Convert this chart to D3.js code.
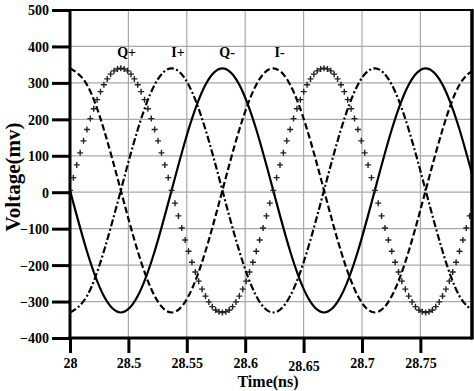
<!DOCTYPE html>
<html>
<head>
<meta charset="utf-8">
<script src="https://cdn.jsdelivr.net/npm/d3@7"></script>
<style>
  body { margin: 0; background: #fff; }
  svg { display: block; }
  text { font-family: "Liberation Serif", "Times New Roman", serif; font-weight: bold; fill: #000; }
</style>
</head>
<body>
<svg id="chart" width="474" height="391"></svg>
<script>
// sample times (ns) of the Q+ markers
const sampleNs = [
  28.4500, 28.4529, 28.4558, 28.4587, 28.4616, 28.4645, 28.4674, 28.4703, 28.4732, 28.4761,
  28.4790, 28.4819, 28.4848, 28.4877, 28.4906, 28.4935, 28.4964, 28.4993, 28.5022, 28.5051,
  28.5080, 28.5109, 28.5138, 28.5167, 28.5196, 28.5225, 28.5254, 28.5283, 28.5312, 28.5341,
  28.5370, 28.5399, 28.5428, 28.5457, 28.5486, 28.5515, 28.5544, 28.5573, 28.5602, 28.5631,
  28.5660, 28.5689, 28.5718, 28.5747, 28.5776, 28.5805, 28.5834, 28.5863, 28.5892, 28.5921,
  28.5950, 28.5979, 28.6008, 28.6037, 28.6066, 28.6095, 28.6124, 28.6153, 28.6182, 28.6211,
  28.6240, 28.6269, 28.6298, 28.6327, 28.6356, 28.6385, 28.6414, 28.6443, 28.6472, 28.6501,
  28.6530, 28.6559, 28.6588, 28.6617, 28.6646, 28.6675, 28.6704, 28.6733, 28.6762, 28.6791,
  28.6820, 28.6849, 28.6878, 28.6907, 28.6936, 28.6965, 28.6994, 28.7023, 28.7052, 28.7081,
  28.7110, 28.7139, 28.7168, 28.7197, 28.7226, 28.7255, 28.7284, 28.7313, 28.7342, 28.7371,
  28.7400, 28.7429, 28.7458, 28.7487, 28.7516, 28.7545, 28.7574, 28.7603, 28.7632, 28.7661,
  28.7690, 28.7719, 28.7748, 28.7777, 28.7806, 28.7835, 28.7864, 28.7893, 28.7922
];
const qPlusMv = [
  5, 40, 75, 108, 141, 172, 202, 229, 254, 276, 295, 311, 324, 333, 338, 340,
  338, 333, 324, 311, 295, 276, 254, 229, 202, 172, 141, 108, 75, 40, 5,
  -30, -65, -98, -131, -162, -192, -219, -244, -266, -285, -301, -314, -323, -328, -330,
  -328, -323, -314, -301, -285, -266, -244, -219, -192, -162, -131, -98, -65, -30, 5,
  40, 75, 108, 141, 172, 202, 229, 254, 276, 295, 311, 324, 333, 338, 340,
  338, 333, 324, 311, 295, 276, 254, 229, 202, 172, 141, 108, 75, 40, 5,
  -30, -65, -98, -131, -162, -192, -219, -244, -266, -285, -301, -314, -323, -328, -330,
  -328, -323, -314, -301, -285, -266, -244, -219, -192, -162, -131, -98, -65
];

// coarser samples for the three line traces
const lineNs = [
  28.4500, 28.4645, 28.4790, 28.4935, 28.5080, 28.5225, 28.5370, 28.5515, 28.5660, 28.5805,
  28.5950, 28.6095, 28.6240, 28.6385, 28.6530, 28.6675, 28.6820, 28.6965, 28.7110, 28.7255,
  28.7400, 28.7545, 28.7690, 28.7835, 28.7980
];
const iPlusMv = [-330, -285, -162, 5, 172, 295, 340, 295, 172, 5, -162, -285, -330,
  -285, -162, 5, 172, 295, 340, 295, 172, 5, -162, -285, -330];
const qMinusMv = [5, -162, -285, -330, -285, -162, 5, 172, 295, 340, 295, 172, 5,
  -162, -285, -330, -285, -162, 5, 172, 295, 340, 295, 172, 5];
const iMinusMv = [340, 295, 172, 5, -162, -285, -330, -285, -162, 5, 172, 295, 340,
  295, 172, 5, -162, -285, -330, -285, -162, 5, 172, 295, 340];

const xTickValues = [28.45, 28.5, 28.55, 28.6, 28.65, 28.7, 28.75];
const xTickLabels = ["28", "28.5", "28.55", "28.6", "28.65", "28.7", "28.75"];
const yTickValues = [-400, -300, -200, -100, 0, 100, 200, 300, 400, 500];

const seriesNames = ["Q+", "I+", "Q-", "I-"];
const nameNs = [28.4985, 28.5425, 28.5845, 28.6295];

const svg = d3.select("#chart");
const box = { left: 70, right: 472, top: 10, bottom: 338 };

const x = d3.scaleLinear().domain([28.45, 28.7942]).range([box.left, box.right]);
const y = d3.scaleLinear().domain([-400, 500]).range([box.bottom, box.top]);

// grid
svg.append("g").selectAll("line")
  .data(xTickValues.slice(1))
  .enter().append("line")
  .attr("x1", d => x(d)).attr("x2", d => x(d))
  .attr("y1", box.top).attr("y2", box.bottom)
  .attr("stroke", "#a8a8a8").attr("stroke-width", 1.2);
svg.append("g").selectAll("line")
  .data(yTickValues.slice(1, -1))
  .enter().append("line")
  .attr("x1", box.left).attr("x2", box.right)
  .attr("y1", d => y(d)).attr("y2", d => y(d))
  .attr("stroke", "#a8a8a8").attr("stroke-width", 1.2);

svg.append("clipPath").attr("id", "plotClip")
  .append("rect").attr("x", box.left).attr("y", box.top)
  .attr("width", box.right - box.left).attr("height", box.bottom - box.top);

const plot = svg.append("g").attr("clip-path", "url(#plotClip)");

const line = d3.line()
  .x(d => x(d[0]))
  .y(d => y(d[1]))
  .curve(d3.curveNatural);

function addTrace(values, dash) {
  plot.append("path")
    .datum(lineNs.map((t, i) => [t, values[i]]))
    .attr("d", line)
    .attr("fill", "none")
    .attr("stroke", "#000")
    .attr("stroke-width", 2.2)
    .attr("stroke-dasharray", dash);
}

addTrace(iPlusMv, "7,2.5,2,2.5");
addTrace(qMinusMv, null);
addTrace(iMinusMv, "6.5,3");

// Q+ plus markers
plot.append("g").selectAll("path")
  .data(sampleNs.map((t, i) => [t, qPlusMv[i]]))
  .enter().append("path")
  .attr("transform", d => `translate(${x(d[0])},${y(d[1])})`)
  .attr("d", "M-3,0H3M0,-3V3")
  .attr("stroke", "#222")
  .attr("stroke-width", 1.4);

// frame
svg.append("line").attr("x1", box.left).attr("x2", box.right).attr("y1", box.top).attr("y2", box.top)
  .attr("stroke", "#000").attr("stroke-width", 2);
svg.append("line").attr("x1", box.right).attr("x2", box.right).attr("y1", box.top - 1).attr("y2", box.bottom + 1.5)
  .attr("stroke", "#000").attr("stroke-width", 3.5);
svg.append("line").attr("x1", box.left).attr("x2", box.left).attr("y1", box.top - 1).attr("y2", box.bottom + 1.5)
  .attr("stroke", "#000").attr("stroke-width", 3);
svg.append("line").attr("x1", box.left - 1.5).attr("x2", box.right).attr("y1", box.bottom).attr("y2", box.bottom)
  .attr("stroke", "#000").attr("stroke-width", 3);

// axes
const xAxis = svg.append("g")
  .attr("transform", `translate(0,${box.bottom})`)
  .call(d3.axisBottom(x).tickValues(xTickValues)
    .tickFormat((d, i) => xTickLabels[i]).tickSize(15).tickPadding(5));
const yAxis = svg.append("g")
  .attr("transform", `translate(${box.left},0)`)
  .call(d3.axisLeft(y).tickValues(yTickValues).tickSize(18).tickPadding(3));

[xAxis, yAxis].forEach(a => {
  a.select(".domain").remove();
  a.selectAll(".tick line").attr("stroke", "#000").attr("stroke-width", 3);
  a.selectAll(".tick text")
    .attr("font-family", "'Liberation Serif', 'Times New Roman', serif")
    .attr("font-weight", "bold")
    .attr("font-size", 14)
    .attr("fill", "#000");
});
yAxis.selectAll(".tick text").attr("dy", "0.35em");
// the 28.65 label sits a little lower in the original
xAxis.selectAll(".tick text").filter((d, i) => i === 4).attr("dy", "0.92em");

// series names
svg.append("g").selectAll("text")
  .data(seriesNames)
  .enter().append("text")
  .attr("x", (d, i) => x(nameNs[i]))
  .attr("y", y(370))
  .attr("text-anchor", "middle")
  .attr("font-size", 14)
  .text(d => d);

// axis titles
svg.append("text")
  .attr("x", 268)
  .attr("y", 387)
  .attr("text-anchor", "middle")
  .attr("font-size", 16)
  .text("Time(ns)");
svg.append("text")
  .attr("transform", "translate(20,177) rotate(-90)")
  .attr("text-anchor", "middle")
  .attr("font-size", 21)
  .text("Voltage(mv)");
</script>
</body>
</html>
